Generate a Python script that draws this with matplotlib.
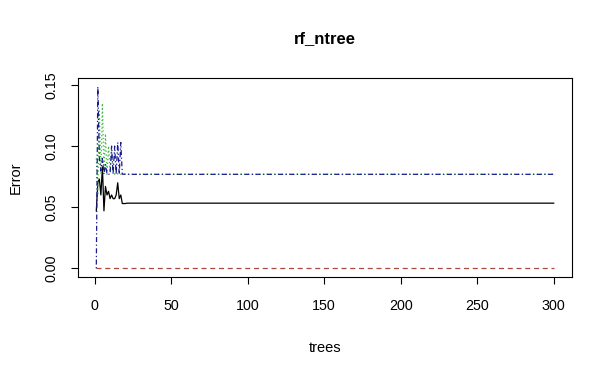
import numpy as np
import matplotlib
matplotlib.use("Agg")
import matplotlib.pyplot as plt

plt.rcParams['font.family'] = ['Liberation Sans', 'DejaVu Sans']

n_trees = 300
# early-tree error values (trees 1..20), after which the curves are flat
oob_start = [0.047, 0.070, 0.073, 0.060, 0.083, 0.047, 0.067, 0.060, 0.063, 0.057,
             0.060, 0.057, 0.057, 0.060, 0.070, 0.057, 0.060, 0.053, 0.053, 0.053]
class1_start = [0.0] * 20
class2_start = [0.090, 0.060, 0.130, 0.077, 0.135, 0.080, 0.110, 0.077, 0.100, 0.080,
                0.095, 0.080, 0.077, 0.080, 0.077, 0.077, 0.077, 0.077, 0.077, 0.077]
class3_start = [0.000, 0.1486, 0.090, 0.080, 0.090, 0.077, 0.085, 0.077, 0.077, 0.077,
                0.100, 0.077, 0.100, 0.077, 0.103, 0.077, 0.103, 0.077, 0.077, 0.077]
oob_final = 0.0533
class1_final = 0.0
class2_final = 0.0769
class3_final = 0.0769

trees = np.arange(1, n_trees + 1)

def series(start, final):
    return np.array(list(start) + [final] * (n_trees - len(start)))

oob = series(oob_start, oob_final)
c1 = series(class1_start, class1_final)
c2 = series(class2_start, class2_final)
c3 = series(class3_start, class3_final)

fig = plt.figure(figsize=(6.13, 3.75), dpi=100)
ax = fig.add_axes([78/613, 1-277/375, (572-78)/613, (277-78)/375])

ax.plot(trees, oob, color='black', lw=0.9, ls='-')
ax.plot(trees, c1, color='#a84a40', lw=0.9, ls=(0, (4, 3)))
ax.plot(trees, c2, color='#40b840', lw=0.9, ls=(0, (1, 2)))
ax.plot(trees, c3, color='#1a1a90', lw=0.9, ls=(0, (1, 2, 4, 2)))

ax.set_xlim(1 - 0.04 * 299, 300 + 0.04 * 299)
ax.set_ylim(-0.0071, 0.1557)
ax.set_xticks([0, 50, 100, 150, 200, 250, 300])
ax.set_yticks([0.00, 0.05, 0.10, 0.15])
ax.set_yticklabels(['0.00', '0.05', '0.10', '0.15'], rotation=90, va='center')
ax.tick_params(labelsize=10.3, length=5, width=0.8)
ax.tick_params(axis='x', pad=11)
ax.tick_params(axis='y', pad=9)
for s in ax.spines.values():
    s.set_linewidth(0.8)

ax.set_xlabel('trees', fontsize=10.5, labelpad=20)
ax.set_ylabel('Error', fontsize=10.5, labelpad=16)
ax.set_title('rf_ntree', fontsize=12, fontweight='bold', pad=25)

fig.savefig('out.png', dpi=100)
